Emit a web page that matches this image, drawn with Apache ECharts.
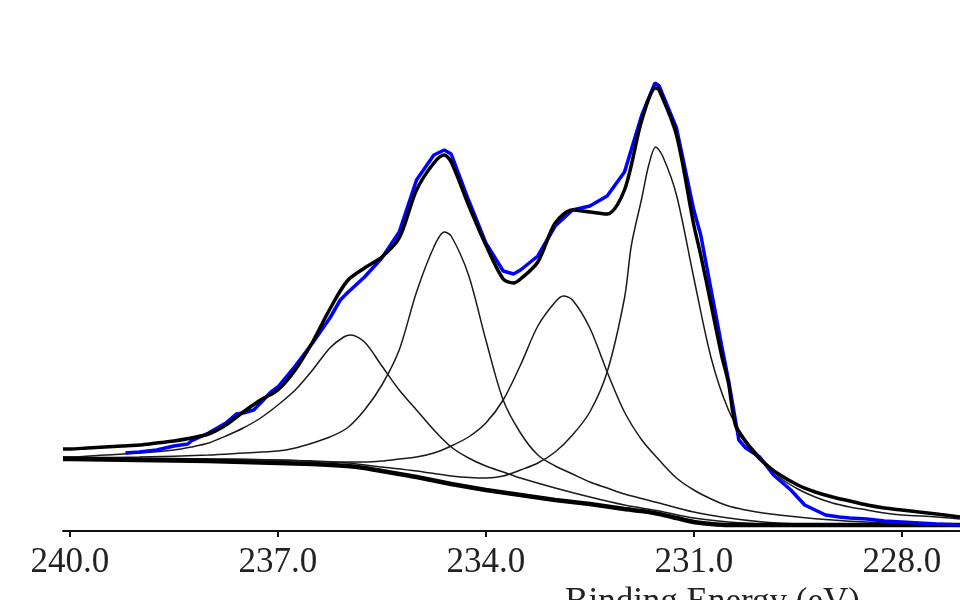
<!DOCTYPE html>
<html>
<head>
<meta charset="utf-8">
<title>XPS fit</title>
<script src="https://cdn.jsdelivr.net/npm/echarts@6/dist/echarts.min.js"></script>
<style>
  html, body { margin: 0; padding: 0; background: #fff; }
  #chart { width: 960px; height: 600px; }
</style>
</head>
<body>
<div id="chart"></div>
<script>
// binding energy (eV), intensity (a.u.)
const tickValues = [240, 237, 234, 231, 228]

const rawData = [
  [239.2, 78], [239.0, 79], [238.75, 81], [238.5, 85], [238.3, 87], [238.25, 90], [238.0, 98],
  [237.85, 104], [237.75, 108], [237.6, 117], [237.5, 118], [237.35, 121], [237.25, 128], [237.1, 139],
  [237.0, 144], [236.75, 165], [236.5, 188], [236.25, 213], [236.1, 231], [236.0, 238], [235.75, 254],
  [235.5, 273], [235.25, 299], [235.0, 351], [234.75, 376], [234.6, 381], [234.5, 377], [234.25, 331],
  [234.0, 288], [233.75, 260], [233.6, 257], [233.5, 261], [233.25, 275], [233.0, 305], [232.75, 321],
  [232.5, 325], [232.25, 335], [232.0, 359], [231.75, 416], [231.56, 448], [231.5, 445], [231.25, 403],
  [231.0, 321], [230.9, 296], [230.75, 241], [230.6, 186], [230.5, 151], [230.35, 91], [230.25, 83],
  [230.05, 74], [229.85, 56], [229.6, 41], [229.4, 26], [229.1, 16], [228.9, 14], [228.75, 13],
  [228.5, 12], [228.25, 10], [228.0, 9], [227.75, 8], [227.5, 7], [227.16, 6]
]

const envelope = [
  [240.1, 82], [240.0, 82], [239.75, 83], [239.5, 84], [239.25, 85], [239.0, 86], [238.75, 88],
  [238.5, 90], [238.25, 93], [238.0, 97], [237.75, 106], [237.5, 119], [237.25, 131], [237.0, 141],
  [236.75, 161], [236.5, 189], [236.25, 222], [236.0, 250], [235.75, 263], [235.5, 274], [235.25, 293],
  [235.0, 341], [234.75, 368], [234.6, 376], [234.5, 369], [234.25, 326], [234.0, 286], [233.75, 252],
  [233.6, 248], [233.5, 252], [233.25, 269], [233.0, 308], [232.75, 321], [232.5, 319], [232.25, 317],
  [232.0, 341], [231.75, 411], [231.55, 443], [231.5, 441], [231.25, 396], [231.0, 306], [230.9, 276],
  [230.75, 226], [230.6, 176], [230.5, 148], [230.4, 106], [230.25, 89], [230.1, 76], [230.0, 69],
  [229.8, 58], [229.5, 46], [229.25, 39], [229.0, 34], [228.75, 30], [228.5, 26], [228.25, 23],
  [228.0, 21], [227.75, 19], [227.5, 17], [227.16, 14]
]

const background = [
  [240.1, 72], [240.0, 72], [239.0, 71], [238.0, 70], [237.0, 68], [236.5, 67], [236.0, 65],
  [235.75, 63], [235.5, 60], [235.25, 57], [235.0, 54], [234.5, 47], [234.0, 41], [233.5, 36],
  [233.0, 31], [232.5, 27], [232.0, 22], [231.75, 20], [231.5, 17], [231.25, 13], [231.0, 9],
  [230.75, 7], [230.5, 6], [230.0, 6], [229.0, 6], [228.0, 6], [227.16, 6]
]

const peak1 = [
  [240.1, 74], [240.0, 74], [239.5, 76], [239.0, 78], [238.5, 81], [238.25, 84], [238.0, 88],
  [237.75, 95], [237.5, 103], [237.25, 113], [237.0, 126], [236.75, 141], [236.5, 161], [236.25, 183],
  [236.05, 194], [235.95, 196], [235.75, 189], [235.5, 165], [235.25, 141], [235.0, 121], [234.75, 101],
  [234.5, 84], [234.25, 73], [234.0, 65], [233.75, 59], [233.5, 53], [233.0, 43], [232.5, 34],
  [232.0, 26], [231.5, 20], [231.0, 13], [230.5, 9], [230.0, 7], [229.5, 6], [227.16, 6]
]

const peak2 = [
  [240.1, 73], [240.0, 73], [239.0, 74], [238.0, 76], [237.5, 78], [237.0, 80], [236.75, 83],
  [236.5, 88], [236.25, 94], [236.0, 103], [235.75, 121], [235.5, 146], [235.25, 181], [235.0, 239],
  [234.75, 284], [234.6, 299], [234.5, 295], [234.25, 256], [234.0, 191], [233.75, 131], [233.5, 98],
  [233.25, 76], [233.0, 65], [232.75, 57], [232.5, 49], [232.25, 43], [232.0, 37], [231.5, 28],
  [231.0, 19], [230.5, 13], [230.0, 9], [229.5, 7], [229.0, 6], [227.16, 6]
]

const peak3 = [
  [240.1, 74], [239.0, 73], [238.0, 72], [237.0, 71], [236.5, 70], [236.0, 69], [235.75, 69],
  [235.5, 70], [235.25, 72], [235.0, 74], [234.75, 78], [234.5, 85], [234.25, 94], [234.0, 108],
  [233.75, 131], [233.5, 166], [233.25, 205], [233.0, 229], [232.88, 235], [232.75, 231], [232.5, 203],
  [232.25, 159], [232.0, 119], [231.75, 91], [231.5, 71], [231.25, 53], [231.0, 41], [230.75, 32],
  [230.5, 25], [230.25, 21], [230.0, 18], [229.5, 14], [229.0, 11], [228.5, 9], [228.0, 8],
  [227.5, 7], [227.16, 6]
]

const peak4 = [
  [240.1, 73], [239.0, 72], [238.0, 72], [237.0, 71], [236.0, 68], [235.5, 64], [235.0, 60],
  [234.5, 55], [234.0, 53], [233.75, 55], [233.5, 61], [233.25, 68], [233.0, 79], [232.75, 96],
  [232.5, 119], [232.25, 159], [232.0, 233], [231.9, 286], [231.75, 333], [231.65, 366], [231.55, 384],
  [231.45, 375], [231.25, 336], [231.0, 253], [230.75, 173], [230.5, 121], [230.25, 91], [230.0, 71],
  [229.75, 53], [229.5, 42], [229.25, 34], [229.0, 28], [228.75, 24], [228.5, 21], [228.25, 18],
  [228.0, 16], [227.5, 14], [227.16, 12]
]

const chart = echarts.init(document.getElementById('chart'))

const thin = (data) => ({
  type: 'line',
  data: data,
  smooth: 0.3,
  symbol: 'none',
  z: 2,
  lineStyle: { color: '#1a1a1a', width: 1.5 }
})

chart.setOption({
  animation: false,
  grid: { left: 63, right: 0, top: 0, bottom: 69, containLabel: false, outerBoundsMode: 'none' },
  xAxis: {
    type: 'value',
    inverse: true,
    min: 227.16,
    max: 240.1,
    name: 'Binding Energy (eV)',
    nameLocation: 'middle',
    nameGap: 53,
    nameTextStyle: {
      fontFamily: 'Liberation Serif',
      fontSize: 35,
      color: '#222',
      padding: [0, 0, 0, 402]
    },
    axisLine: { lineStyle: { color: '#111', width: 2 } },
    axisTick: { customValues: tickValues, length: 6, lineStyle: { color: '#111', width: 2 } },
    axisLabel: {
      customValues: tickValues,
      margin: 14,
      fontFamily: 'Liberation Serif',
      fontSize: 35,
      color: '#222',
      formatter: v => v.toFixed(1)
    },
    splitLine: { show: false }
  },
  yAxis: {
    type: 'value',
    min: 0,
    max: 531,
    show: false
  },
  series: [
    thin(peak1),
    thin(peak2),
    thin(peak3),
    thin(peak4),
    {
      type: 'line', data: background, smooth: 0.2, symbol: 'none', z: 3,
      lineStyle: { color: '#000', width: 4.5 }
    },
    {
      type: 'line', data: rawData, smooth: false, symbol: 'none', z: 4,
      lineStyle: { color: '#0000ff', width: 3.5 }
    },
    {
      type: 'line', data: envelope, smooth: 0.3, symbol: 'none', z: 5,
      lineStyle: { color: '#000', width: 3.5 }
    }
  ]
})
</script>
</body>
</html>
